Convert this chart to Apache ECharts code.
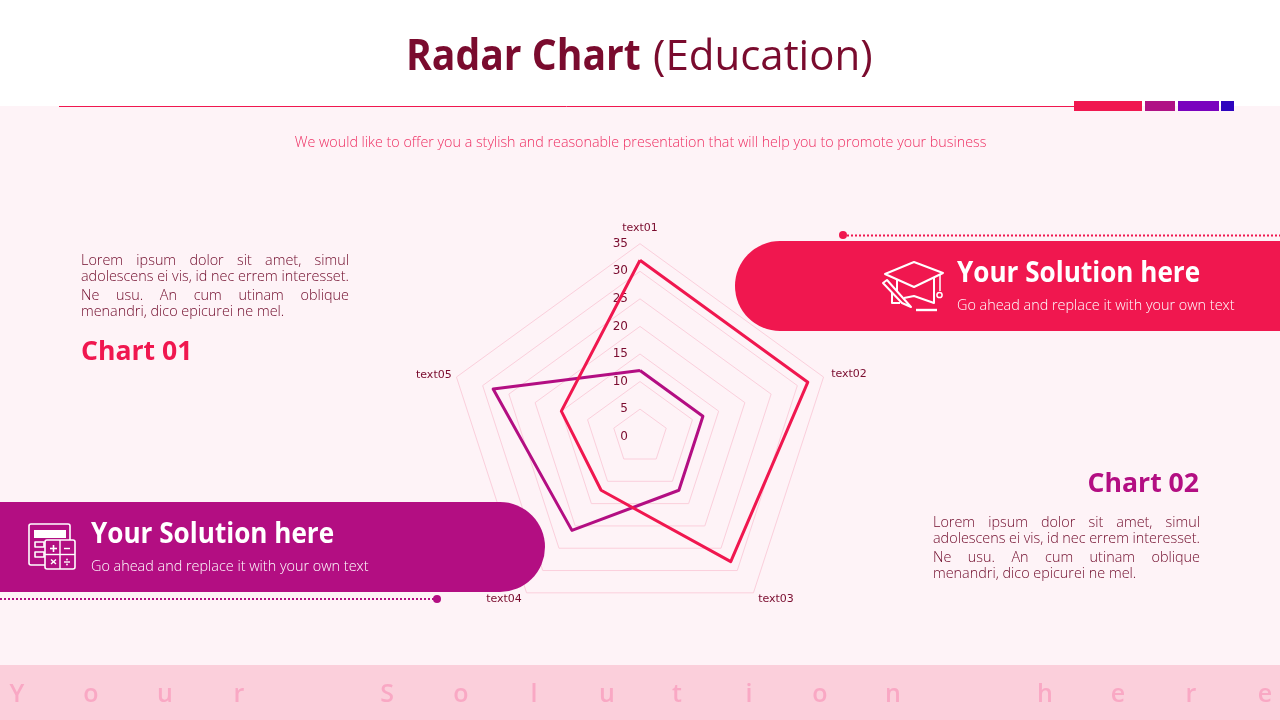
<!DOCTYPE html>
<html>
<head>
<meta charset="utf-8">
<style>html,body{margin:0;padding:0;background:#fff}#c{width:1280px;height:720px}</style>
<script src="https://cdn.jsdelivr.net/npm/echarts@6/dist/echarts.min.js"></script>
</head>
<body>
<div id="c"></div>
<script>
const categories = ['text01','text02','text03','text04','text05'];
const chart01 = [32,32,28,12,15];
const chart02 = [12,12,12,21,28];
const axisMax = 35;
const seriesNames = ['Chart 01','Chart 02'];

// ECharts lays radar indicators out counter-clockwise; the reference runs clockwise.
const clockwise = v => [v[0], ...v.slice(1).reverse()];

const RED='#F0174F', PURPLE='#B30E82', DARK='#7A0B2E', F='"Open Sans","Noto Sans",sans-serif';
const chart = echarts.init(document.getElementById('c'));
const ctx = document.createElement('canvas').getContext('2d');
const g = [];
function text(x,y,s,o){
  g.push({type:'text',x,y,z:o.z||12,scaleX:o.sx||1,silent:true,
    style:{text:s,fill:o.c,font:(o.w||400)+' '+o.s+'px '+F,textAlign:o.a||'left',textVerticalAlign:'middle',textBaseline:'middle'}});
}
function justify(x,y,width,s,o){
  const font=(o.w||400)+' '+o.s+'px '+F; ctx.font=font;
  const words=s.split(' ');
  const total=words.reduce((a,w)=>a+ctx.measureText(w).width,0);
  const gap=o.natural?ctx.measureText(' ').width:(width-total)/(words.length-1);
  let cx=x;
  words.forEach(w=>{text(cx,y,w,o);cx+=ctx.measureText(w).width+gap;});
}
function rect(x,y,w,h,fill,z,r){g.push({type:'rect',z:z,silent:true,shape:{x,y,width:w,height:h,r:r||0},style:{fill}});}
function poly(points,stroke,lw,z,closed,fill){g.push({type:closed?'polygon':'polyline',z:z||13,silent:true,shape:{points},style:{stroke:stroke,lineWidth:lw,fill:fill||'none',lineJoin:'round'}});}
function line(x1,y1,x2,y2,c,lw,dash,z){g.push({type:'line',z:z||10,silent:true,shape:{x1,y1,x2,y2},style:{stroke:c,lineWidth:lw,lineDash:dash||null}});}
function dot(x,y,r,c,z){g.push({type:'circle',z:z||10,silent:true,shape:{cx:x,cy:y,r},style:{fill:c}});}

// page furniture
rect(0,0,1280,106,'#FFFFFF',-1);
rect(0,665,1280,55,'#FBCFDB',-1);
line(59,106.5,1074,106.5,RED,1);
rect(1074,101,68,10,RED,10);
rect(1145,101,30,10,'#B01285',10);
rect(1178,101,41,10,'#7A02BE',10);
rect(1221,101,13,10,'#2E04BE',10);

// title
text(406,58,'Radar Chart',{s:43,w:700,c:DARK,sx:0.91});
text(653,58,'(Education)',{s:42,w:400,c:DARK});
text(640.5,142.5,'We would like to offer you a stylish and reasonable presentation that will help you to promote your business',{s:14.3,w:300,c:'#EE2E62',a:'center'});

// left copy
const P={s:14.4,w:300,c:'#6E0828'};
justify(81,261,268,'Lorem ipsum dolor sit amet, simul',P);
justify(81,277,268,'adolescens ei vis, id nec errem interesset.',P);
justify(81,296,268,'Ne usu. An cum utinam oblique',P);
justify(81,312,0,'menandri, dico epicurei ne mel.',{...P,natural:true});
text(81,352,'Chart 01',{s:27,w:700,c:RED,sx:0.985});
// right copy
text(1199,484,'Chart 02',{s:27,w:700,c:PURPLE,a:'right',sx:0.985});
justify(933,523,267,'Lorem ipsum dolor sit amet, simul',P);
justify(933,539,267,'adolescens ei vis, id nec errem interesset.',P);
justify(933,558,267,'Ne usu. An cum utinam oblique',P);
justify(933,574,0,'menandri, dico epicurei ne mel.',{...P,natural:true});

// red banner
g.push({type:'rect',z:10,silent:true,shape:{x:735,y:241,width:600,height:90,r:45},style:{fill:RED}});
line(843,235.5,1280,235.5,RED,2,[2,2]); dot(843,235,4,RED);
text(957,274,'Your Solution here',{s:29,w:700,c:'#FFFFFF',sx:0.9});
text(957,306,'Go ahead and replace it with your own text',{s:14.4,w:300,c:'#FFFFFF'});
// graduation cap icon
poly([[885,274],[914,262],[943,273],[914,287]],'#fff',2,13,true);
poly([[897,280],[897,292]],'#fff',2);
poly([[934,277],[934,303],[914,296],[904,298]],'#fff',2);
poly([[940,274],[940,291]],'#fff',1.5);
g.push({type:'circle',z:13,silent:true,shape:{cx:939.5,cy:295,r:2.6},style:{stroke:'#fff',lineWidth:1.5,fill:'none'}});
poly([[883,283],[887,280],[911,307],[902,303]],'#fff',2,14,true,RED);
poly([[892,293],[892,303],[900,303]],'#fff',2);
line(916,310,937,310,'#fff',2.4,null,13);

// purple banner
g.push({type:'rect',z:10,silent:true,shape:{x:-100,y:502,width:645,height:90,r:45},style:{fill:PURPLE}});
line(0,599,437,599,PURPLE,2,[2,2]); dot(437,599,4,PURPLE);
text(91,535,'Your Solution here',{s:29,w:700,c:'#FFFFFF',sx:0.9});
text(91,567,'Go ahead and replace it with your own text',{s:14.4,w:300,c:'#FFFFFF'});
// calculator icon
g.push({type:'rect',z:13,silent:true,shape:{x:29,y:524,width:41,height:41,r:2},style:{stroke:'#fff',lineWidth:1.6,fill:'none'}});
rect(34,530,32,8,'#fff',13);
poly([[35,542],[44,542],[44,547],[35,547]],'#fff',1.6,13,true);
poly([[35,552],[44,552],[44,557],[35,557]],'#fff',1.6,13,true);
g.push({type:'rect',z:14,silent:true,shape:{x:45,y:540,width:30,height:29,r:2},style:{stroke:'#fff',lineWidth:1.6,fill:PURPLE}});
line(60,540,60,569,'#fff',1.4,null,15);
line(45,554.5,75,554.5,'#fff',1.4,null,15);
line(50,548.5,57,548.5,'#fff',1.6,null,15);
line(53.5,545,53.5,552,'#fff',1.6,null,15);
line(64,548.5,70,548.5,'#fff',1.4,null,15);
line(51,559.5,56,564,'#fff',1.4,null,15);
line(56,559.5,51,564,'#fff',1.4,null,15);
line(64,562,70,562,'#fff',1.4,null,15);
dot(67,559.5,0.9,'#fff',15);
dot(67,564.5,0.9,'#fff',15);

// footer letters
const footer='Your  Solution  here';
const pos=[17,91,165,239,0,0,387,461,534,607,677,749,820,893,0,0,1045,1118,1191,1265];
[...footer].forEach((ch,i)=>{ if(ch!==' ') text(pos[i],694.5,ch,{s:25,w:600,c:'#F9A8C4',a:'center'}); });

const labelStyle={fontFamily:'"DejaVu Sans"',fontSize:12,color:DARK};
const nameGaps=[10,5,8,8,8];
chart.setOption({
  animation:false,
  backgroundColor:'#FEF3F7',
  graphic:{elements:g},
  radar:{
    center:[640,436.7],radius:193,startAngle:90,splitNumber:7,shape:'polygon',
    nameGap:8,
    axisName:{fontFamily:'"DejaVu Sans"',fontSize:11,color:DARK},
    axisLine:{show:false},axisTick:{show:false},
    splitArea:{show:false},
    splitLine:{lineStyle:{color:'#FBCFDC',width:1}},
    axisLabel:{show:false},
    indicator:clockwise(categories).map((name,i)=>({name,min:0,max:axisMax,
      nameGap:nameGaps[i],
      axisLabel:i===0?{show:true,margin:12,showMinLabel:true,showMaxLabel:true,...labelStyle}:{show:false}}))
  },
  series:[{type:'radar',symbol:'none',silent:true,z:3,
    data:[
      {name:seriesNames[1],value:clockwise(chart02),lineStyle:{color:PURPLE,width:3}},
      {name:seriesNames[0],value:clockwise(chart01),lineStyle:{color:RED,width:3}}
    ]}]
});
</script>
</body>
</html>
